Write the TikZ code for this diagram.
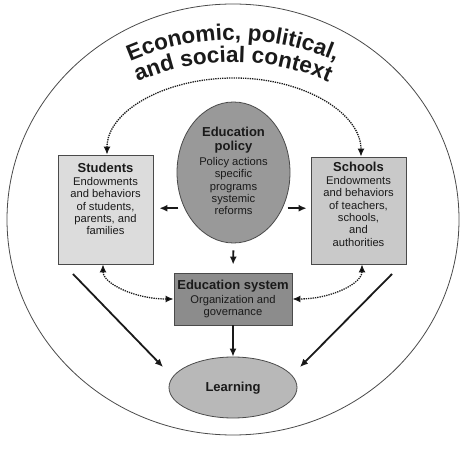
\documentclass[tikz,border=0pt]{standalone}
\usepackage{fontspec}
\setmainfont{Liberation Sans}
\usetikzlibrary{shapes.geometric,arrows.meta,decorations.text,calc}
\definecolor{stufill}{HTML}{DCDCDC}
\definecolor{schfill}{HTML}{C9C9C9}
\definecolor{polfill}{HTML}{999999}
\definecolor{sysfill}{HTML}{8C8C8C}
\definecolor{learnfill}{HTML}{B8B8B8}
\definecolor{edge}{HTML}{4A4A4A}
\definecolor{ink}{HTML}{1A1A1A}
\tikzset{
  boxshape/.style={draw=edge, line width=0.8pt, inner sep=0pt},
  txt/.style={inner sep=0pt, align=center, text=ink, font=\fontsize{11.2}{12.4}\selectfont},
  hd/.style={},
  arr/.style={draw=ink, line width=1.8pt, -{Latex[length=8pt,width=7pt]}},
  dotarr/.style={draw=ink, line width=1.3pt, densely dotted, {Latex[length=8pt,width=7pt]}-{Latex[length=8pt,width=7pt]}},
  title/.style={decorate, decoration={text along path, text align=center, text color=ink}}
}
\newcommand{\hdtext}[1]{\textbf{\fontsize{13}{12.4}\selectfont #1}}
\begin{document}
\begin{tikzpicture}[x=1pt,y=1pt]
\useasboundingbox (0,0) rectangle (474,-454);
% outer context ellipse
\draw[edge, line width=0.8pt] (233,-219.5) ellipse [x radius=226, y radius=215.5];
% curved title
\path[title, decoration={text={|\fontsize{22.5}{22}\selectfont\bfseries|Economic{,} political{,}}}]
  (233,-300) ++(115:260) arc[start angle=115, end angle=65, radius=260];
\path[title, decoration={text={|\fontsize{22.5}{22}\selectfont\bfseries|and social context}}]
  (233,-300) ++(116:238) arc[start angle=116, end angle=64, radius=238];
% nodes
\node[boxshape, fill=stufill, minimum width=95pt, minimum height=109pt] (students) at (105.5,-209.5) {};
\node[txt, anchor=north] (studentstext) at (105.5,-162.7)
  {\hdtext{Students}\\[0.6pt]Endowments\\and behaviors\\of students,\\parents, and\\families};
\node[boxshape, fill=schfill, minimum width=95pt, minimum height=107pt] (schools) at (358.5,-210.5) {};
\node[txt, anchor=north] (schoolstext) at (358.5,-161.7)
  {\hdtext{Schools}\\[0.6pt]Endowments\\and behaviors\\of teachers,\\schools,\\and\\authorities};
\node[ellipse, boxshape, fill=polfill, minimum width=113pt, minimum height=141pt] (policy) at (233.5,-172.5) {};
\node[txt, anchor=north] (policytext) at (233.5,-126.7)
  {\hdtext{Education}\\[1.6pt]\hdtext{policy}\\[2.6pt]Policy actions\\specific\\programs\\systemic\\reforms};
\node[boxshape, fill=sysfill, minimum width=118pt, minimum height=52pt] (system) at (233,-299) {};
\node[txt, anchor=north] (systemtext) at (233,-280)
  {\hdtext{Education system}\\[1pt]Organization and\\governance};
\node[ellipse, boxshape, fill=learnfill, minimum width=128pt, minimum height=61pt] (learning) at (233,-387.5) {};
\node[txt, anchor=base, font=\fontsize{13}{13}\selectfont\bfseries] (learningtext) at (233,-391.5) {Learning};
% solid connectors
\draw[arr, shorten <=6pt, shorten >=6pt] (policy.216) -- (policy.216 -| students.east);
\draw[arr, shorten <=5pt, shorten >=4pt] (policy.324) -- (policy.324 -| schools.west);
\draw[arr, shorten <=7pt, shorten >=8pt] (policy.south) -- (system.north);
\draw[arr] (system.south) -- (learning.north);
\coordinate (sls) at (73,-274);
\coordinate (sle) at (163,-367);
\coordinate (scs) at (392,-274);
\coordinate (sce) at (300,-367);
\draw[arr] (sls) -- (sle);
\draw[arr] (scs) -- (sce);
% dotted connectors
\coordinate (topmid) at (234,-78);
\draw[dotarr] ([xshift=1.5pt]students.north) .. controls +(0,43) and (164,-78) .. (topmid)
  .. controls (305,-78) and ($([xshift=2.5pt]schools.north)+(0,43)$) .. ([xshift=2.5pt]schools.north);
\draw[dotarr] ([xshift=-2.5pt]students.south) .. controls +(0,-19) and +(-39,0) .. (system.west);
\draw[dotarr] ([xshift=3.5pt]schools.south) .. controls +(0,-19) and +(39,0) .. (system.east);
\end{tikzpicture}
\end{document}
